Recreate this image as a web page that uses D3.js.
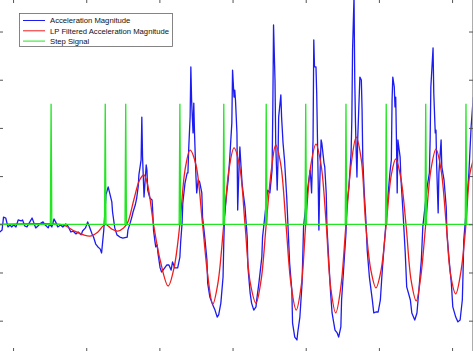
<!DOCTYPE html>
<html>
<head>
<meta charset="utf-8">
<script src="https://cdn.jsdelivr.net/npm/d3@7"></script>
<style>
body { margin: 0; background: #fff; }
svg { display: block; }
</style>
</head>
<body>
<script>
// sample index, value (m/s^2)
var accMag = [
[82,-0.32],[85,-0.24],[87,0.30],[90,0.26],[93,-0.11],[96,-0.03],[98,-0.11],[101,-0.03],[104,-0.11],[107,0.18],
[111,0.14],[113,0.18],[116,-0.07],[119,-0.11],[123,0.10],[126,0.26],[128,0.10],[131,-0.15],[134,-0.07],[138,0.05],
[141,0.10],[144,-0.03],[148,-0.15],[150,0.01],[153,-0.11],[156,0.22],[159,0.05],[161,-0.11],[165,-0.03],[168,-0.11],
[172,0.01],[175,-0.07],[179,-0.32],[182,-0.28],[186,-0.40],[189,-0.32],[193,-0.44],[195,-0.28],[199,-0.15],[202,0.10],
[205,-0.15],[208,-0.40],[210,-0.53],[213,-0.82],[216,-0.94],[219,-1.02],[221,-1.19],[224,-0.24],[227,1.22],[230,1.55],
[232,1.30],[235,0.93],[236,0.51],[239,-0.15],[242,-0.44],[246,-0.53],[250,-0.57],[256,-0.53],[257,-0.24],[260,0.05],
[262,0.26],[264,0.51],[267,0.80],[269,1.09],[271,1.55],[272,2.05],[275,2.67],[276,4.45],[277,2.79],[279,1.13],
[282,2.46],[283,2.25],[284,1.42],[287,1.09],[290,1.01],[291,0.47],[292,-0.24],[294,-0.73],[295,-0.94],[297,-0.86],
[298,-1.19],[301,-1.81],[303,-1.98],[305,-1.90],[310,-1.69],[313,-1.69],[316,-1.90],[318,-1.56],[321,-1.81],[325,-1.81],
[328,-1.36],[329,-0.78],[331,0.05],[332,0.88],[335,1.71],[338,2.13],[339,2.13],[340,3.08],[342,4.45],[343,6.53],
[344,5.16],[346,3.79],[347,5.03],[348,3.79],[350,1.96],[351,1.30],[353,1.84],[355,1.76],[358,1.30],[359,0.30],
[362,-0.53],[365,-1.48],[366,-2.44],[369,-3.02],[373,-3.35],[376,-3.56],[379,-3.85],[381,-3.76],[384,-3.27],[387,-2.19],
[388,-0.78],[389,0.30],[392,1.30],[394,1.84],[396,2.67],[399,4.20],[400,6.40],[402,5.28],[403,5.57],[404,5.16],
[406,3.79],[407,0.59],[409,2.54],[410,3.21],[411,2.67],[413,1.71],[414,1.42],[417,0.72],[420,-0.53],[421,-1.77],
[424,-2.85],[426,-3.27],[429,-3.56],[432,-3.43],[433,-3.14],[436,-2.44],[440,-1.36],[441,-0.53],[444,0.30],[447,1.13],
[448,1.42],[451,1.30],[454,2.25],[455,4.74],[456,8.27],[458,5.99],[459,3.37],[461,1.42],[462,2.54],[463,4.45],
[466,5.37],[467,4.45],[469,3.37],[471,2.67],[474,1.13],[476,-0.24],[478,-1.61],[481,-2.73],[482,-4.10],[485,-4.68],
[488,-4.80],[489,-4.51],[492,-3.85],[495,-2.44],[497,-0.11],[500,0.72],[503,1.55],[506,2.25],[507,1.84],[508,1.30],
[510,3.50],[511,7.65],[512,6.53],[514,6.53],[515,5.45],[517,1.84],[518,-0.24],[519,1.55],[521,3.50],[522,3.37],
[525,2.54],[526,2.38],[528,1.30],[529,-0.11],[532,-1.77],[534,-2.85],[536,-3.68],[540,-4.39],[543,-4.51],[545,-4.68],
[548,-4.26],[549,-3.14],[552,-1.77],[555,-0.36],[556,0.72],[559,1.55],[562,2.96],[563,4.33],[564,7.23],[566,9.45],
[567,5.99],[568,4.20],[569,2.96],[570,1.96],[571,3.50],[574,6.11],[576,5.99],[577,4.74],[578,2.67],[580,1.30],
[582,0.30],[584,-1.07],[587,-2.19],[591,-3.14],[593,-3.68],[596,-3.64],[599,-3.64],[602,-3.14],[604,-2.19],[607,-0.94],
[610,0.18],[612,1.01],[615,2.13],[617,2.67],[618,5.16],[619,6.11],[621,5.70],[622,4.87],[623,5.28],[624,3.50],
[625,1.30],[626,3.50],[629,2.79],[630,1.96],[633,0.47],[636,-1.19],[638,-2.60],[643,-3.14],[645,-3.68],[649,-3.97],
[652,-3.68],[655,-2.60],[658,-1.48],[660,-0.11],[663,0.72],[666,1.55],[669,2.13],[670,3.50],[671,5.70],[674,7.32],
[675,5.45],[677,3.79],[678,3.91],[679,2.38],[681,0.47],[682,2.13],[685,3.50],[686,2.38],[689,1.84],[692,0.72],
[693,-0.36],[696,-1.48],[699,-2.44],[701,-3.43],[705,-3.85],[708,-4.05],[711,-3.97],[714,-3.14],[715,-2.02],[716,-0.65],
[719,0.47],[721,1.30],[723,2.13],[726,4.04],[729,5.28]
];

var lpMag = [
[82,0],[164,0],[172,-0.07],[184,-0.28],[205,-0.49],[216,-0.32],[226,0],[235,-0.2],[243,-0.28],[251,-0.15],
[257,0.1],[265,1.01],[273,1.84],[279,2.05],[284,1.63],[292,0],[301,-1.48],[312,-2.56],[320,-1.81],[328,0],
[335,2.25],[342,3.08],[350,2.46],[359,0],[366,-2.10],[373,-3.31],[380,-2.44],[388,0],[395,2.25],[402,3.17],
[410,2.34],[417,0],[424,-2.39],[432,-3.27],[439,-2.32],[446,0],[453,2.25],[459,3.29],[466,2.46],[473,0],
[480,-2.52],[487,-3.56],[494,-2.52],[500,0],[507,2.46],[514,3.33],[521,2.46],[528,0],[534,-2.60],[541,-3.68],
[548,-2.60],[555,0],[562,2.46],[569,3.62],[576,2.67],[582,0],[589,-1.90],[596,-2.64],[603,-1.90],[610,0],
[617,2.05],[623,2.71],[630,1.92],[637,0],[644,-2.32],[651,-3.18],[657,-2.23],[664,0],[671,2.25],[678,3.12],
[685,2.25],[692,0],[698,-2.10],[705,-2.89],[712,-1.98],[719,0],[724,2.05],[729,2.67]
];

var stepIdx = [152, 226, 254, 328, 388, 446, 500, 555, 610, 664, 719];
var stepHeight = 5;
var sampleRange = [82, 729];

var seriesNames = ["Acceleration Magnitude", "LP Filtered Acceleration Magnitude", "Step Signal"];
var seriesColors = ["#1c1cf0", "#f01c1c", "#22e622"];

var xTicks = [100, 200, 300, 400, 500, 600, 700];
var yTicks = [-4, -2, 0, 2, 4, 6, 8];

var W = 474, H = 351;
var L = -1, R = 473, T = -1, B = 352;

var svg = d3.select("body").append("svg")
	.attr("width", W)
	.attr("height", H);

var x = d3.scaleLinear().domain([80.8, 728.6]).range([L, R]);
var y = d3.scaleLinear().domain([-5.30, 9.35]).range([B, T]);

svg.append("clipPath").attr("id", "plotclip")
	.append("rect")
	.attr("x", L).attr("y", T)
	.attr("width", R - L).attr("height", B - T);

// step signal built from indices
var stepData = [[sampleRange[0], 0]];
stepIdx.forEach((s) => {
	stepData.push([s - 1, 0]);
	stepData.push([s, stepHeight]);
	stepData.push([s + 1, 0]);
});
stepData.push([sampleRange[1], 0]);

var plot = svg.append("g").attr("clip-path", "url(#plotclip)");

var lineLin = d3.line().x(d => x(d[0])).y(d => y(d[1]));
var lineSmooth = d3.line().x(d => x(d[0])).y(d => y(d[1])).curve(d3.curveCatmullRom.alpha(0.5));

plot.append("path")
	.datum(accMag)
	.attr("fill", "none")
	.attr("stroke", seriesColors[0])
	.attr("stroke-width", 1.3)
	.attr("stroke-linejoin", "round")
	.attr("d", lineLin);

plot.append("path")
	.datum(lpMag)
	.attr("fill", "none")
	.attr("stroke", seriesColors[1])
	.attr("stroke-width", 1.3)
	.attr("d", lineSmooth);

plot.append("path")
	.datum(stepData)
	.attr("fill", "none")
	.attr("stroke", seriesColors[2])
	.attr("stroke-width", 1.3)
	.attr("d", lineLin);

// axes box with inward ticks
var tickLen = 4;
var axisColor = "#555";

svg.append("rect")
	.attr("x", L + 0.5).attr("y", T + 0.5)
	.attr("width", R - L - 1).attr("height", B - T - 1)
	.attr("fill", "none")
	.attr("stroke", "#999")
	.attr("stroke-width", 0.8);

svg.append("g")
	.attr("transform", "translate(0," + B + ")")
	.call(d3.axisBottom(x).tickValues(xTicks).tickSizeInner(-tickLen).tickSizeOuter(0).tickFormat(""))
	.call(g => g.select(".domain").remove())
	.selectAll("line").attr("stroke", axisColor);

svg.append("g")
	.attr("transform", "translate(0," + T + ")")
	.call(d3.axisTop(x).tickValues(xTicks).tickSizeInner(-tickLen).tickSizeOuter(0).tickFormat(""))
	.call(g => g.select(".domain").remove())
	.selectAll("line").attr("stroke", axisColor);

svg.append("g")
	.attr("transform", "translate(" + L + ",0)")
	.call(d3.axisLeft(y).tickValues(yTicks).tickSizeInner(-tickLen).tickSizeOuter(0).tickFormat(""))
	.call(g => g.select(".domain").remove())
	.selectAll("line").attr("stroke", axisColor);

svg.append("g")
	.attr("transform", "translate(" + R + ",0)")
	.call(d3.axisRight(y).tickValues(yTicks).tickSizeInner(-tickLen).tickSizeOuter(0).tickFormat(""))
	.call(g => g.select(".domain").remove())
	.selectAll("line").attr("stroke", axisColor);

// legend
var legend = svg.append("g").attr("transform", "translate(19,13)");

legend.append("rect")
	.attr("x", 0.5).attr("y", 0.5)
	.attr("width", 153).attr("height", 33)
	.attr("fill", "#fff")
	.attr("stroke", "#666")
	.attr("stroke-width", 0.8);

seriesNames.forEach((name, i) => {
	var row = legend.append("g")
		.attr("transform", "translate(0," + (7.5 + i * 10.3) + ")");
	row.append("line")
		.attr("x1", 4).attr("x2", 26)
		.attr("y1", 0).attr("y2", 0)
		.attr("stroke", seriesColors[i])
		.attr("stroke-width", 1);
	row.append("text")
		.attr("x", 31)
		.attr("y", 2.8)
		.attr("font-family", "Liberation Sans, Arial, sans-serif")
		.attr("font-size", "7.7px")
		.attr("fill", "#111")
		.text(name);
});
</script>
</body>
</html>
